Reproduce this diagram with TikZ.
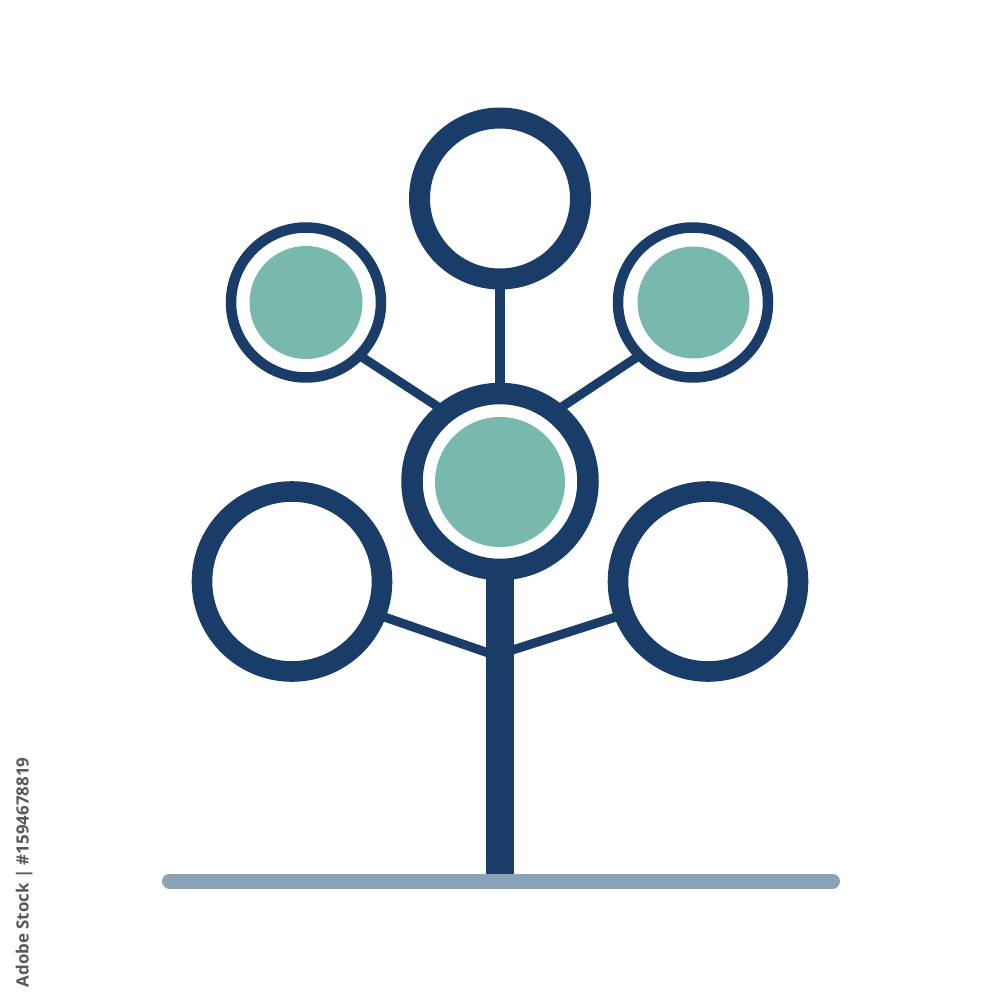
\documentclass[tikz,border=0pt]{standalone}
\usepackage{fontspec}
\setmainfont{Open Sans}
\definecolor{deepblue}{HTML}{1A3C68}
\definecolor{tealfill}{HTML}{79B8AD}
\definecolor{groundgrey}{HTML}{8AA3B7}
\definecolor{idgrey}{HTML}{585858}
\begin{document}
\begin{tikzpicture}[x=1pt,y=-1pt,
  ringthick/.style={circle, draw=deepblue, fill=white, inner sep=0pt, line width=21pt},
  ringthin/.style={circle, draw=deepblue, fill=white, inner sep=0pt, line width=10.5pt},
  tealdot/.style={circle, fill=tealfill, inner sep=0pt},
  branch/.style={draw=deepblue, line width=9pt, shorten <=-4pt, shorten >=-4pt},
  trunkline/.style={draw=deepblue, line width=28pt},
  groundline/.style={draw=groundgrey, line width=15pt, line cap=round}
]
\fill[white] (0,0) rectangle (1000,1000);
\useasboundingbox (0,0) rectangle (1000,1000);

% circles
\node[ringthick, minimum size=161pt] (top) at (500,198.5) {};
\node[ringthin, minimum size=150pt] (ul) at (306,302.5) {};
\node[tealdot, minimum size=113pt] (uldot) at (306,302.5) {};
\node[ringthin, minimum size=150pt] (ur) at (693,302.5) {};
\node[tealdot, minimum size=112pt] (urdot) at (693.5,302.5) {};
\node[ringthick, minimum size=176pt, line width=21.5pt] (mid) at (500,481.5) {};
\node[tealdot, minimum size=130pt] (middot) at (500,482) {};
\node[ringthick, minimum size=180pt, line width=20.6pt] (ll) at (292,581.5) {};
\node[ringthick, minimum size=180pt, line width=20.6pt] (lr) at (708,581.5) {};

% junctions on the trunk
\coordinate (jl) at (500,657);
\coordinate (jr) at (500,654);
\coordinate (base) at (500,875);
\coordinate (gl) at (169.5,881);
\coordinate (gr) at (832.5,881);

% connectors
\draw[branch, line width=10pt] (top.south) -- (mid.north);
\draw[branch] (ul.-44) -- (mid.130);
\draw[branch] (ur.224) -- (mid.50);
\draw[branch, shorten >=0pt] (ll.-21) -- (jl);
\draw[branch, shorten >=0pt] (lr.201) -- (jr);
\draw[trunkline, shorten <=-6pt] (mid.south) -- (base);
\draw[groundline] (gl) -- (gr);

% stock id
\node[rotate=90, text=idgrey, inner sep=0pt, font=\bfseries\fontsize{16.9}{17}\selectfont] (stockid) at (24,872.5) {Adobe Stock | \#1594678819};
\end{tikzpicture}
\end{document}
